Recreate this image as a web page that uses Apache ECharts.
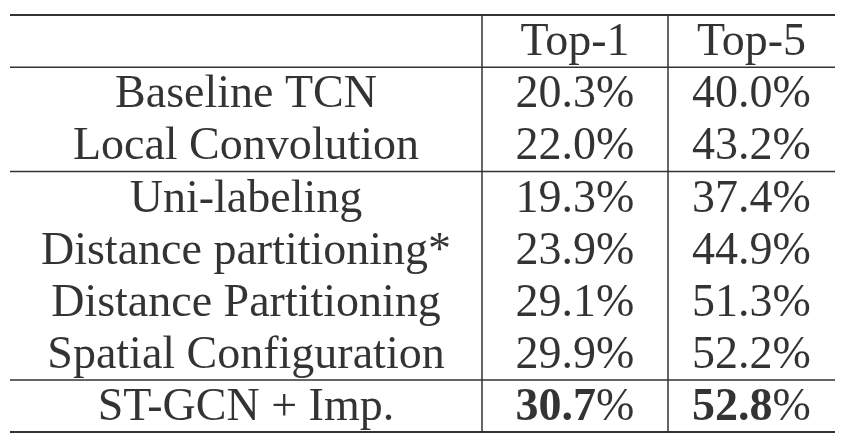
<!DOCTYPE html>
<html><head><meta charset="utf-8">
<script src="https://cdn.jsdelivr.net/npm/echarts@6/dist/echarts.min.js"></script>
<style>html,body{margin:0;background:#fff}#c{width:867px;height:442px}</style>
</head><body><div id="c"></div>
<script>
const headers = ['', 'Top-1', 'Top-5'];
const methods = ['Baseline TCN','Local Convolution','Uni-labeling','Distance partitioning*','Distance Partitioning','Spatial Configuration','ST-GCN + Imp.'];
const top1 = [20.3, 22.0, 19.3, 23.9, 29.1, 29.9, 30.7];
const top5 = [40.0, 43.2, 37.4, 44.9, 51.3, 52.2, 52.8];
const boldRow = 'ST-GCN + Imp.';
const rows = ['__header'].concat(methods);

const chart = echarts.init(document.getElementById('c'));
const font = '"Liberation Serif","DejaVu Serif",serif';
const grids = [{left:10,width:472,top:15,bottom:10},{left:482,width:186,top:15,bottom:10},{left:668,width:167,top:15,bottom:10}];
const cols = [
  [headers[0]].concat(methods),
  [headers[1]].concat(top1.map(v=>v.toFixed(1))),
  [headers[2]].concat(top5.map(v=>v.toFixed(1)))
];
const series = cols.map((col,i)=>({
  type:'scatter', xAxisIndex:i, yAxisIndex:i, symbolSize:0, silent:true,
  data: col.map((t,j)=>({value:['c', rows[j]], txt:t, j:j})),
  label:{show:true, position:'inside', fontFamily:font, fontSize:46, color:'#000', offset:[0,2],
    formatter:p=>{
      const t=p.data.txt, j=p.data.j;
      if(i===0||j===0) return t;
      if(rows[j]===boldRow) return '{b|'+t+'}%';
      return t+'%';
    },
    rich:{b:{fontFamily:font,fontSize:46,fontWeight:'bold',color:'#000'}}
  }
}));
chart.setOption({
  animation:false,
  grid:grids,
  xAxis:grids.map((g,i)=>({type:'category',gridIndex:i,data:['c'],show:false})),
  yAxis:grids.map((g,i)=>({type:'category',gridIndex:i,data:rows,inverse:true,show:false})),
  series:series
});
const L=10,R=835,T=15,B=432,rowH=(B-T)/rows.length;
const hy=[0,1,3,7,8].map(k=>T+k*rowH);
const g=[];
hy.forEach(y=>g.push({type:'line',shape:{x1:L,y1:y,x2:R,y2:y},style:{stroke:'#333',lineWidth:(y===T||y===B)?2:1.5}}));
[482,668].forEach(x=>g.push({type:'line',shape:{x1:x,y1:T,x2:x,y2:B},style:{stroke:'#333',lineWidth:1.5}}));
chart.setOption({graphic:g});
</script></body></html>
